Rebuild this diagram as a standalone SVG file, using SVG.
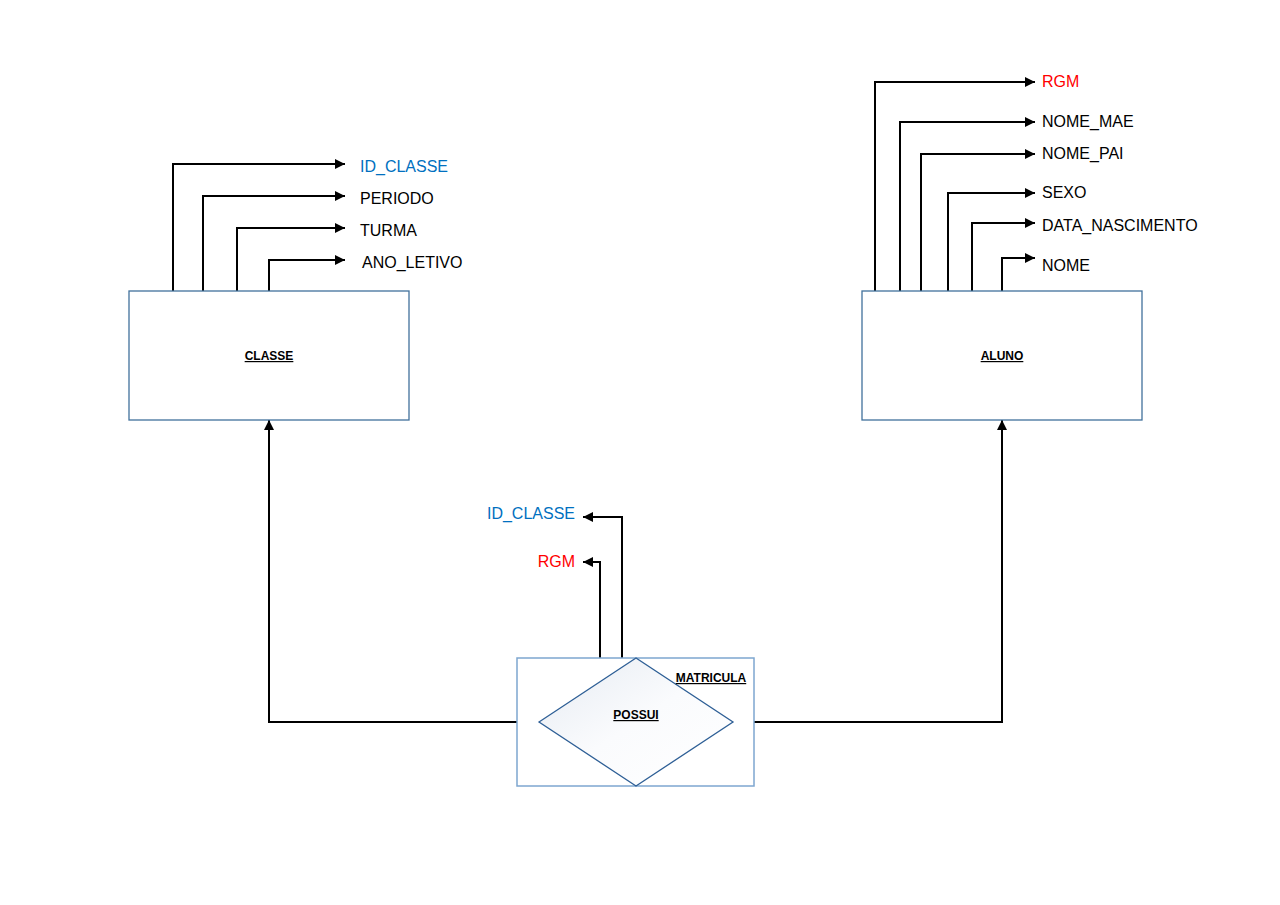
<svg xmlns="http://www.w3.org/2000/svg" width="1280" height="905" viewBox="0 0 1280 905">
<style>
.ent{fill:#fff;stroke:#41719c;stroke-width:1.3}
.ln{fill:none;stroke:#000;stroke-width:2}
.t{font-family:"Liberation Sans",Arial,sans-serif;font-size:16px;fill:#000}
.b{font-family:"Liberation Sans",Arial,sans-serif;font-size:12px;font-weight:bold;text-decoration:underline;fill:#000}
.blue{fill:#0070c0}.red{fill:#ff0000}
</style>
<defs>
<marker id="a" viewBox="0 0 10 10" refX="10" refY="5" markerWidth="5" markerHeight="5" orient="auto"><path d="M0,0L10,5L0,10z" fill="#000"/></marker>
<linearGradient id="g" x1="0" y1="0" x2="1" y2="1"><stop offset="0" stop-color="#e6ebf2"/><stop offset="0.5" stop-color="#fafbfd"/><stop offset="1" stop-color="#fff"/></linearGradient>
</defs>
<rect width="1280" height="905" fill="#fff"/>
<g id="connectors">
<path class="ln" marker-end="url(#a)" d="M173,291V164H345"/>
<path class="ln" marker-end="url(#a)" d="M203,291V196H345"/>
<path class="ln" marker-end="url(#a)" d="M237,291V228H345"/>
<path class="ln" marker-end="url(#a)" d="M269,291V260H345"/>
<path class="ln" marker-end="url(#a)" d="M875,291V82H1035"/>
<path class="ln" marker-end="url(#a)" d="M900,291V122H1035"/>
<path class="ln" marker-end="url(#a)" d="M921,291V154H1035"/>
<path class="ln" marker-end="url(#a)" d="M948,291V193H1035"/>
<path class="ln" marker-end="url(#a)" d="M972,291V223H1035"/>
<path class="ln" marker-end="url(#a)" d="M1002,291V258H1035"/>
<path class="ln" marker-end="url(#a)" d="M622,658V517H583"/>
<path class="ln" marker-end="url(#a)" d="M600,658V562H583"/>
<path class="ln" marker-end="url(#a)" d="M539,722H269V420"/>
<path class="ln" marker-end="url(#a)" d="M733,722H1002V420"/>
</g>
<g id="classe">
<rect class="ent" x="129" y="291" width="280" height="129"/>
<text class="b" x="269" y="360" text-anchor="middle">CLASSE</text>
</g>
<g id="aluno">
<rect class="ent" x="862" y="291" width="280" height="129"/>
<text class="b" x="1002" y="360" text-anchor="middle">ALUNO</text>
</g>
<g id="matricula">
<rect x="517" y="658" width="237" height="128" fill="#fff" stroke="#7ea6d0" stroke-width="1.5"/>
<path d="M539,722L636,658L733,722L636,786Z" fill="url(#g)" stroke="#2e5f96" stroke-width="1.3"/>
<text class="b" x="711" y="682" text-anchor="middle">MATRICULA</text>
<text class="b" x="636" y="719" text-anchor="middle">POSSUI</text>
</g>
<g id="attrs">
<text class="t blue" x="360" y="172">ID_CLASSE</text>
<text class="t" x="360" y="204">PERIODO</text>
<text class="t" x="360" y="236">TURMA</text>
<text class="t" x="362" y="268">ANO_LETIVO</text>
<text class="t red" x="1042" y="87">RGM</text>
<text class="t" x="1042" y="127">NOME_MAE</text>
<text class="t" x="1042" y="159">NOME_PAI</text>
<text class="t" x="1042" y="198">SEXO</text>
<text class="t" x="1042" y="231">DATA_NASCIMENTO</text>
<text class="t" x="1042" y="271">NOME</text>
<text class="t blue" x="575" y="519" text-anchor="end">ID_CLASSE</text>
<text class="t red" x="575" y="567" text-anchor="end">RGM</text>
</g>
</svg>
